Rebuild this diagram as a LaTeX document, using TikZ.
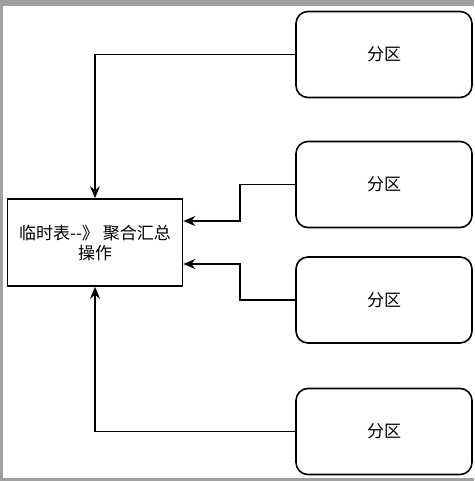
\documentclass[tikz,border=0pt]{standalone}
\usepackage{fontspec}
\newfontfamily\cjk{Noto Sans CJK SC}
\usetikzlibrary{arrows.meta}
\begin{document}
\begin{tikzpicture}[x=1pt,y=-1pt,
  part/.style={draw=black,line width=1.6pt,rounded corners=12pt,minimum width=176pt,minimum height=86pt,inner sep=0pt,font=\cjk\fontsize{17}{20}\selectfont},
  tmp/.style={draw=black,line width=1.6pt,minimum width=175pt,minimum height=87pt,inner sep=0pt,align=center,font=\cjk\fontsize{17}{20}\selectfont},
  conn/.style={line width=1.6pt,-{Stealth[length=12pt,width=10pt]}}]
\useasboundingbox (0,0) rectangle (474,481);
\fill[white] (0,0) rectangle (474,481);
\fill[gray!75] (0,0) rectangle (474,6);
\fill[gray!75] (0,0) rectangle (3,481);
\fill[gray!75] (0,478) rectangle (474,481);
\node[tmp] (t) at (95,242.5) {临时表--》 聚合汇总\\操作};
\node[part] (p1) at (384,54.5) {分区};
\node[part] (p2) at (384,184.5) {分区};
\node[part] (p3) at (384,300) {分区};
\node[part] (p4) at (384,431.5) {分区};
\coordinate (a2) at (t.east |- 0,221);
\coordinate (a3) at (t.east |- 0,264);
\draw[conn] (p1.west) -| (t.north);
\draw[conn] (p2.west) -- (240,184.5) |- (a2);
\draw[conn] (p3.west) -- (240,300) |- (a3);
\draw[conn] (p4.west) -| (t.south);
\end{tikzpicture}
\end{document}
